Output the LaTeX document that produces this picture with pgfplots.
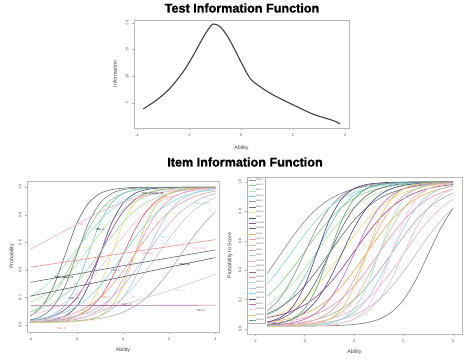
\documentclass[border=0pt]{standalone}
\usepackage{pgfplots}
\usepackage{pgfplotstable}
\pgfplotsset{compat=1.18}
\usepackage{fontspec}
\setmainfont{Liberation Sans}
\newfontfamily\titlefont{Liberation Sans}[BoldFeatures={FakeBold=1.2}]

\definecolor{cGray}{RGB}{140,140,145}
\definecolor{cGreen}{RGB}{140,210,140}
\definecolor{cLgreen}{RGB}{185,230,175}
\definecolor{cTeal}{RGB}{120,200,190}
\definecolor{cGrayB}{RGB}{145,145,150}
\definecolor{cDgray}{RGB}{110,110,120}
\definecolor{cYellow}{RGB}{230,225,130}
\definecolor{cNavy}{RGB}{75,75,145}
\definecolor{cPurple}{RGB}{155,75,140}
\definecolor{cDgrayB}{RGB}{100,100,110}
\definecolor{cOrange}{RGB}{240,175,100}
\definecolor{cPink}{RGB}{235,155,190}
\definecolor{cTan}{RGB}{215,190,155}
\definecolor{cGrayC}{RGB}{175,175,175}
\definecolor{cLblue}{RGB}{165,205,235}
\definecolor{cPinkB}{RGB}{242,180,208}
\definecolor{cLgray}{RGB}{205,205,205}
\definecolor{cGrayD}{RGB}{125,125,130}
\definecolor{cSalmon}{RGB}{238,165,155}
\definecolor{cLgreenB}{RGB}{165,225,200}
\definecolor{cLav}{RGB}{200,182,228}
\definecolor{cCyan}{RGB}{145,215,228}
\definecolor{cNavyB}{RGB}{85,65,135}
\definecolor{cMag}{RGB}{200,110,180}
\definecolor{cLpink}{RGB}{242,200,218}
\definecolor{cGold}{RGB}{225,200,110}
\definecolor{cDgreen}{RGB}{100,165,120}
\definecolor{cRed}{RGB}{225,100,100}

% right panel: rows are curves, columns are abilities
\pgfplotstableread{
name c1 c2 c3 c4 c5 c6 c7 c8 c9 c10 c11 c12 c13 c14 c15 c16
x -3.5 -3 -2.5 -2 -1.5 -1 -0.5 0 0.5 1 1.5 2 2.5 3 3.5 4
r1 .378 .5 .622 .731 .818 .881 .924 .953 .971 .982 .989 .993 .996 .998 .999 .999
r2 .223 .306 .409 .525 .641 .744 .827 .887 .928 .955 .972 .983 .990 .993 .996 .998
r3 .163 .223 .306 .409 .525 .641 .744 .827 .887 .928 .955 .972 .983 .990 .993 .996
r4 .095 .140 .223 .355 .525 .695 .827 .910 .955 .978 .990 .995 .998 .999 .999 1
r5 .122 .207 .341 .515 .689 .823 .908 .954 .978 .989 .995 .998 .999 .999 1 1
r6 .104 .145 .207 .291 .397 .515 .633 .739 .823 .885 .926 .954 .972 .983 .989 .993
r7 .076 .104 .145 .207 .291 .397 .515 .633 .739 .823 .885 .926 .954 .972 .983 .989
r8 .031 .043 .066 .113 .198 .335 .51 .685 .822 .907 .954 .977 .989 .995 .998 .999
r9 .078 .095 .122 .163 .223 .306 .409 .525 .641 .744 .827 .887 .928 .955 .972 .983
r10 .043 .066 .113 .198 .335 .51 .685 .822 .907 .954 .977 .989 .995 .998 .999 .999
r11 .047 .058 .076 .104 .145 .207 .291 .397 .515 .633 .739 .823 .885 .926 .954 .972
r12 .041 .047 .058 .076 .104 .145 .207 .291 .397 .515 .633 .739 .823 .885 .926 .954
r13 .021 .022 .025 .031 .043 .066 .113 .198 .335 .51 .685 .822 .907 .954 .977 .989
r14 .027 .031 .038 .048 .066 .094 .137 .198 .284 .390 .51 .630 .736 .822 .883 .926
r15 .021 .021 .022 .025 .031 .043 .066 .113 .198 .335 .51 .685 .822 .907 .954 .977
r16 .024 .027 .031 .038 .048 .066 .094 .137 .198 .284 .390 .51 .630 .736 .822 .883
r17 .020 .020 .021 .022 .025 .031 .043 .066 .113 .198 .335 .51 .685 .822 .907 .954
r18 .020 .020 .020 .020 .021 .022 .025 .031 .043 .066 .113 .198 .335 .51 .685 .822
r19 .022 .025 .031 .043 .066 .113 .198 .335 .51 .685 .822 .907 .954 .977 .989 .995
r20 .02 .02 .021 .022 .027 .038 .066 .137 .284 .51 .736 .883 .954 .982 .993 .998
r21 .022 .024 .027 .031 .038 .048 .066 .094 .137 .198 .284 .390 .51 .630 .736 .822
r22 .306 .409 .525 .641 .744 .827 .887 .928 .955 .972 .983 .990 .993 .996 .998 .999
r23 .047 .076 .145 .291 .515 .739 .885 .954 .983 .993 .998 .999 1 1 1 1
r24 .025 .031 .043 .066 .113 .198 .335 .51 .685 .822 .907 .954 .977 .989 .995 .998
r25 .02 .02 .02 .021 .022 .027 .038 .066 .137 .284 .51 .736 .883 .954 .982 .993
r26 .02 .021 .022 .027 .038 .066 .137 .284 .51 .736 .883 .954 .982 .993 .998 .999
r27 .027 .038 .066 .137 .284 .51 .736 .883 .954 .982 .993 .998 .999 1 1 1
}\rawR
\pgfplotstabletranspose[colnames from=name]{\tabR}{\rawR}

% left panel
\pgfplotstableread{
name c1 c2 c3 c4 c5 c6 c7 c8 c9 c10 c11 c12 c13 c14 c15 c16 c17
x -4 -3.5 -3 -2.5 -2 -1.5 -1 -0.5 0 0.5 1 1.5 2 2.5 3 3.5 4
l1 .066 .137 .284 .51 .736 .883 .954 .982 .993 .998 .999 .999 .999 .999 .999 .999 .999
l2 .095 .140 .223 .355 .525 .695 .827 .910 .955 .978 .990 .995 .998 .999 .999 .999 .999
l3 .037 .047 .076 .145 .291 .515 .739 .885 .954 .983 .993 .998 .999 1 1 1 1
l4 .168 .207 .264 .342 .440 .55 .660 .758 .836 .893 .932 .958 .974 .984 .990 .994 .996
l5 .022 .027 .038 .066 .137 .284 .51 .736 .883 .954 .982 .993 .998 .999 1 1 1
l6 .031 .043 .066 .113 .198 .335 .51 .685 .822 .907 .954 .977 .989 .995 .998 .999 .999
l7 .021 .022 .027 .038 .066 .137 .284 .51 .736 .883 .954 .982 .993 .998 .999 1 1
l8 .078 .095 .122 .163 .223 .306 .409 .525 .641 .744 .827 .887 .928 .955 .972 .983 .990
l9 .022 .025 .031 .043 .066 .113 .198 .335 .51 .685 .822 .907 .954 .977 .989 .995 .998
l10 .021 .022 .025 .031 .043 .066 .113 .198 .335 .51 .685 .822 .907 .954 .977 .989 .995
l11 .031 .038 .048 .066 .094 .137 .198 .284 .390 .51 .630 .736 .822 .883 .926 .954 .972
l12 .021 .021 .022 .025 .031 .043 .066 .113 .198 .335 .51 .685 .822 .907 .954 .977 .989
l13 .027 .031 .038 .048 .066 .094 .137 .198 .284 .390 .51 .630 .736 .822 .883 .926 .954
l14 .024 .027 .031 .038 .048 .066 .094 .137 .198 .284 .390 .51 .630 .736 .822 .883 .926
l15 .207 .264 .342 .440 .55 .660 .758 .836 .893 .932 .958 .974 .984 .990 .994 .996 .998
l16 .038 .048 .066 .094 .137 .198 .284 .390 .51 .630 .736 .822 .883 .926 .954 .972 .982
l17 .021 .022 .024 .027 .031 .038 .048 .066 .094 .137 .198 .284 .390 .51 .630 .736 .822
l18 .095 .122 .163 .223 .306 .409 .525 .641 .744 .827 .887 .928 .955 .972 .983 .990 .993
l19 .02 .02 .021 .022 .027 .038 .066 .137 .284 .51 .736 .883 .954 .982 .993 .998 .999
l20 .038 .066 .137 .284 .51 .736 .883 .954 .982 .993 .998 .999 1 1 1 1 1
}\rawL
\pgfplotstabletranspose[colnames from=name]{\tabL}{\rawL}

\pgfplotsset{
  rstyle/.style={
    scale only axis,
    axis line style={gray!55, line width=0.6pt},
    tick style={gray!60, line width=0.4pt},
    tick align=outside, major tick length=2pt,
    xtick pos=left, ytick pos=left,
    ticklabel style={font=\fontsize{3.8}{4}\selectfont, text=black!70},
    yticklabel style={rotate=90, anchor=south},
    label style={font=\fontsize{5.3}{6}\selectfont, text=black!75},
    /pgf/number format/assume math mode=true,
    every axis plot/.append style={line width=0.65pt, smooth},
  },
}
\tikzset{tma/.style={font=\fontsize{2.7}{3}\selectfont, inner sep=0pt}}

\begin{document}
\begin{tikzpicture}
\path[use as bounding box] (0pt,0pt) rectangle (474pt,361pt);
\node[font=\titlefont\bfseries\fontsize{12.6}{14}\selectfont] at (242pt,353pt) {Test Information Function};
\node[font=\titlefont\bfseries\fontsize{12.6}{14}\selectfont] at (245pt,199pt) {Item Information Function};

% ---------- top ----------
\begin{axis}[rstyle, at={(134pt,233pt)}, anchor=south west, width=215pt, height=108pt,
  xmin=-4.115, xmax=4.154, ymin=0.3, ymax=20.56,
  xtick={-4,-2,0,2,4}, ytick={5,10,15,20},
  xlabel={Ability}, ylabel={Information},
  xlabel style={at={(axis description cs:0.5,-0.185)}, anchor=center},
  ylabel style={at={(axis description cs:-0.088,0.5)}, anchor=center}]
\addplot[black!75, line width=1.1pt] coordinates {
(-3.76,3.87) (-3.24,5.56) (-2.73,7.75) (-2.22,10.87) (-1.90,13.37) (-1.58,16.19)
(-1.32,18.37) (-1.07,19.81) (-0.81,19.31) (-0.55,17.75) (-0.30,15.56) (-0.04,13.06)
(0.35,9.63) (0.73,8.06) (1.24,6.5) (2.01,4.63) (2.78,2.88) (3.55,1.69) (3.81,1.06)};
\end{axis}

% ---------- bottom left ----------
\begin{axis}[rstyle, at={(27pt,29pt)}, anchor=south west, width=192pt, height=151pt,
  xmin=-4.15, xmax=4.15, ymin=-0.05, ymax=1.045,
  xtick={-4,-2,0,2,4}, ytick={0,0.2,0.4,0.6,0.8,1},
  yticklabel style={/pgf/number format/.cd, fixed, fixed zerofill, precision=1},
  xlabel={Ability}, ylabel={Probability},
  xlabel style={at={(axis description cs:0.5,-0.12)}, anchor=center},
  ylabel style={at={(axis description cs:-0.078,0.5)}, anchor=center}]
\addplot[cDgray] table[x=x,y=l1]{\tabL};
\addplot[cGreen] table[x=x,y=l2]{\tabL};
\addplot[cTeal] table[x=x,y=l3]{\tabL};
\addplot[cLgreen] table[x=x,y=l4]{\tabL};
\addplot[cNavy] table[x=x,y=l5]{\tabL};
\addplot[cPurple] table[x=x,y=l6]{\tabL};
\addplot[cYellow] table[x=x,y=l7]{\tabL};
\addplot[cLpink] table[x=x,y=l8]{\tabL};
\addplot[cRed] table[x=x,y=l9]{\tabL};
\addplot[cPink] table[x=x,y=l10]{\tabL};
\addplot[cSalmon] table[x=x,y=l11]{\tabL};
\addplot[cLblue] table[x=x,y=l12]{\tabL};
\addplot[cLav] table[x=x,y=l13]{\tabL};
\addplot[cLgray] table[x=x,y=l14]{\tabL};
\addplot[cLgreenB] table[x=x,y=l15]{\tabL};
\addplot[cCyan] table[x=x,y=l16]{\tabL};
\addplot[cGrayC] table[x=x,y=l17]{\tabL};
\addplot[cGreen!70] table[x=x,y=l18]{\tabL};
\addplot[cGold] table[x=x,y=l19]{\tabL};
\addplot[cGrayD] table[x=x,y=l20]{\tabL};
% shallow items
\addplot[cPink!80] coordinates {(-4,.55) (-3,.64) (-2,.73) (-1,.82) (0,.89) (1,.94) (2,.97) (3,.985) (4,.993)};
\addplot[cRed!70] coordinates {(-4,.42) (0,.52) (4,.62)};
\addplot[cDgray] coordinates {(-4,.31) (0,.43) (4,.545)};
\addplot[cDgrayB] coordinates {(-4,.21) (0,.35) (4,.49)};
\addplot[cLgray] coordinates {(-4,.03) (-2,.07) (0,.15) (2,.25) (4,.37)};
\addplot[cPurple!80] coordinates {(-4,.14) (4,.145)};
% item labels
\node[tma, text=cPink] at (axis cs:-1.71,.73) {TMA\_13};
\node[tma, text=black] at (axis cs:-1.01,.69) {TMA\_5};
\node[tma, text=black] at (axis cs:1.28,.95) {TMA\_15alpha\_04};
\node[tma, text=cPink] at (axis cs:1.96,.92) {TMA\_07};
\node[tma, text=cGreen] at (axis cs:3.42,.88) {TMA\_Picado};
\node[tma, text=cGreen] at (axis cs:-0.6,.86) {TMA\_9};
\node[tma, text=cCyan] at (axis cs:-0.04,.885) {TMA\_11};
\node[tma, text=cYellow] at (axis cs:0.375,.81) {TMA\_17};
\node[tma, text=cYellow] at (axis cs:2.04,.81) {TMA\_21};
\node[tma, text=cCyan] at (axis cs:1.83,.63) {TMA\_23};
\node[tma, text=cYellow] at (axis cs:-1.57,.56) {TMA\_14};
\node[tma, text=cPink] at (axis cs:3.29,.55) {TMA\_Meg3};
\node[tma, text=cRed] at (axis cs:1.07,.52) {TMA\_12};
\node[tma, text=cCyan] at (axis cs:-1.92,.45) {TMA\_10};
\node[tma, text=cNavy] at (axis cs:-0.32,.39) {TMA\_8};
\node[tma, text=black] at (axis cs:2.67,.44) {TMA\_16};
\node[tma, text=black] at (axis cs:-2.54,.345) {TMA\_alpha\_22};
\node[tma, text=cNavy] at (axis cs:-2.125,.19) {TMA\_19};
\node[tma, text=cRed] at (axis cs:-0.78,.195) {TMA\_3};
\node[tma, text=cLgray] at (axis cs:2.46,.25) {TMA\_15};
\node[tma, text=cLgray] at (axis cs:0.58,.195) {TMA\_18};
\node[tma, text=cPurple] at (axis cs:0.17,.146) {TMA\_20};
\node[tma, text=cNavy] at (axis cs:3.36,.107) {TMA\_6};
\node[tma, text=cRed] at (axis cs:-2.68,-.027) {TMA\_2};
\node[tma, text=cLpink] at (axis cs:-1.22,.024) {TMA\_4};
\end{axis}

% ---------- bottom right ----------
\begin{axis}[rstyle, at={(247pt,27pt)}, anchor=south west, width=215pt, height=157pt,
  xmin=-4.32, xmax=4.36, ymin=-0.034, ymax=1.034,
  xtick={-4,-2,0,2,4}, ytick={0,0.2,0.4,0.6,0.8,1},
  yticklabel style={/pgf/number format/.cd, fixed, fixed zerofill, precision=1},
  xlabel={Ability}, ylabel={Probability to Score},
  xlabel style={at={(axis description cs:0.5,-0.115)}, anchor=center},
  ylabel style={at={(axis description cs:-0.079,0.5)}, anchor=center},
  legend style={at={(0,1)}, anchor=north west, draw=gray!60, fill=white,
    inner xsep=1.2pt, inner ysep=1pt, font=\fontsize{2.3}{2.5}\selectfont,
    row sep=1.5pt, cells={anchor=west}, nodes={inner sep=0.4pt, text=black!70}},
  legend image code/.code={\draw[#1, line width=0.5pt] (0pt,0pt) -- (7pt,0pt);}]
\addplot[cGray] table[x=x,y=r1]{\tabR}; \addlegendentry{Item 1}
\addplot[cGreen] table[x=x,y=r2]{\tabR}; \addlegendentry{Item 17}
\addplot[cLgreen] table[x=x,y=r3]{\tabR}; \addlegendentry{Item 3}
\addplot[cTeal] table[x=x,y=r4]{\tabR}; \addlegendentry{Item 12}
\addplot[cGrayB] table[x=x,y=r5]{\tabR}; \addlegendentry{Item 9}
\addplot[cDgray] table[x=x,y=r6]{\tabR}; \addlegendentry{Item 6}
\addplot[cYellow] table[x=x,y=r7]{\tabR}; \addlegendentry{Item 11}
\addplot[cNavy] table[x=x,y=r8]{\tabR}; \addlegendentry{Item 7}
\addplot[cPurple] table[x=x,y=r9]{\tabR}; \addlegendentry{Item 28}
\addplot[cDgrayB] table[x=x,y=r10]{\tabR}; \addlegendentry{Item 18}
\addplot[cOrange] table[x=x,y=r11]{\tabR}; \addlegendentry{Item 5}
\addplot[cPink] table[x=x,y=r12]{\tabR}; \addlegendentry{Item 13}
\addplot[cTan] table[x=x,y=r13]{\tabR}; \addlegendentry{Item 22}
\addplot[cGrayC] table[x=x,y=r14]{\tabR}; \addlegendentry{Item 4}
\addplot[cLblue] table[x=x,y=r15]{\tabR}; \addlegendentry{Item 2}
\addplot[cPinkB] table[x=x,y=r16]{\tabR}; \addlegendentry{Item 26}
\addplot[cLgray] table[x=x,y=r17]{\tabR}; \addlegendentry{Item 23}
\addplot[cGrayD] table[x=x,y=r18]{\tabR}; \addlegendentry{Item 14}
\addplot[cSalmon] table[x=x,y=r19]{\tabR}; \addlegendentry{Item 15}
\addplot[cLgreenB] table[x=x,y=r20]{\tabR}; \addlegendentry{Item 27}
\addplot[cLav] table[x=x,y=r21]{\tabR}; \addlegendentry{Item 16}
\addplot[cCyan] table[x=x,y=r22]{\tabR}; \addlegendentry{Item 25}
\addplot[cNavyB] table[x=x,y=r23]{\tabR}; \addlegendentry{Item 21}
\addplot[cMag] table[x=x,y=r24]{\tabR}; \addlegendentry{Item 8}
\addplot[cLpink] table[x=x,y=r25]{\tabR}; \addlegendentry{Item 10}
\addplot[cGold] table[x=x,y=r26]{\tabR}; \addlegendentry{Item 24}
\addplot[cDgreen] table[x=x,y=r27]{\tabR}; \addlegendentry{Item 19}
\end{axis}
\end{tikzpicture}
\end{document}
